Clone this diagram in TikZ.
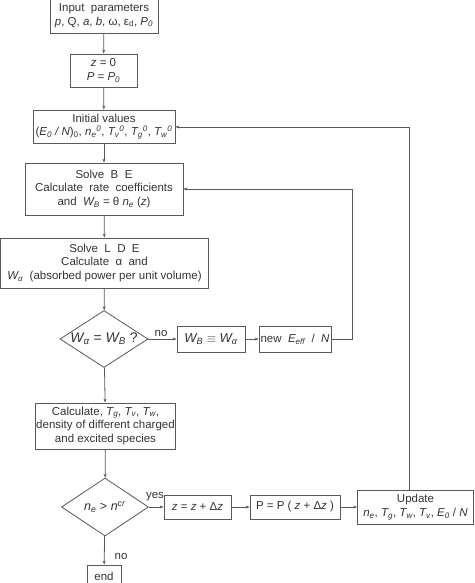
\documentclass[tikz,border=0pt]{standalone}
\usepackage{fontspec}
\setmainfont{Liberation Sans}
\usetikzlibrary{arrows.meta,shapes.geometric}
\tikzset{
  box/.style={draw=black!65, line width=0.8pt, text=black!80, align=center,
    inner sep=1pt, font=\fontsize{11.5}{13.8}\selectfont},
  decision/.style={draw=black!65, line width=0.8pt, text=black!80, diamond,
    aspect=1.5, inner sep=0pt, font=\fontsize{14}{16}\selectfont},
  flow/.style={draw=black!65, line width=0.8pt, -{Stealth[length=4pt,width=3pt]}},
  lab/.style={text=black!80, font=\fontsize{11.5}{13}\selectfont}
}

\begin{document}
\begin{tikzpicture}[x=1pt, y=-1pt]
	%%%%% FRAME %%%%%
	\useasboundingbox (0,0) rectangle (474,583);
	
	%%%%% MAIN COLUMN %%%%%
	\node[box, minimum width=108, minimum height=35] (input) at (104,15.5)
		{Input\ \ parameters\\ \textit{p}, Q, \textit{a}, \textit{b}, ω, ε\textsubscript{d}, \textit{P\textsubscript{0}}};
	\node[box, minimum width=67, minimum height=33] (start) at (103.5,70.5)
		{\textit{z} = 0\\ \textit{P} = \textit{P\textsubscript{0}}};
	\node[box, minimum width=142, minimum height=33] (init) at (104,126.5)
		{Initial values\\ (\textit{E\textsubscript{0} / N})\textsubscript{0}, \textit{n\textsubscript{e}\textsuperscript{0}}, \textit{T\textsubscript{v}\textsuperscript{0}}, \textit{T\textsubscript{g}\textsuperscript{0}}, \textit{T\textsubscript{w}\textsuperscript{0}}};
	\node[box, minimum width=158, minimum height=52] (solvebe) at (104,189)
		{Solve\ \ B\ \ E\\ Calculate\ \ rate\ \ coefficients\\ and\ \ \textit{W\textsubscript{B}} = θ \textit{n\textsubscript{e}} (\textit{z})};
	\node[box, minimum width=208, minimum height=50] (solvelde) at (104.5,263)
		{Solve\ \ L\ \ D\ \ E\\ Calculate\ \ α\ \ and\\ \textit{W\textsubscript{α}}\ \ (absorbed power per unit volume)};
	\node[decision, minimum width=88, minimum height=57] (check) at (104,339)
		{\textit{W\textsubscript{α}} = \textit{W\textsubscript{B}} ?};
	\node[box, minimum width=139, minimum height=46] (calc) at (105.5,426)
		{Calculate, \textit{T\textsubscript{g}}, \textit{T\textsubscript{v}}, \textit{T\textsubscript{w}},\\ density of different charged\\ and excited species};
	\node[decision, minimum width=87, minimum height=58, font=\fontsize{12.5}{14}\selectfont] (crit) at (105,507)
		{\textit{n\textsubscript{e}} > \textit{n}\textsuperscript{\textit{cr}}};
	\node[box, minimum width=34, minimum height=22] (stop) at (104,576) {end};
	
	%%%%% INNER LOOP %%%%%
	\node[box, minimum width=68, minimum height=26, font=\fontsize{13}{15}\selectfont] (assign) at (211,339)
		{\textit{W\textsubscript{B}} $\equiv$ \textit{W\textsubscript{α}}};
	\node[box, minimum width=72, minimum height=26] (neweff) at (295,339)
		{new\ \ \textit{E\textsubscript{eff}}\ \ /\ \ \textit{N}};
	\coordinate (backbe) at (352,189);
	
	%%%%% OUTER LOOP %%%%%
	\node[box, minimum width=67, minimum height=24] (step) at (197.5,507)
		{\textit{z} = \textit{z} + Δ\textit{z}};
	\node[box, minimum width=90, minimum height=24] (press) at (295,507)
		{P = P ( \textit{z} + Δ\textit{z} )};
	\node[box, minimum width=116, minimum height=34] (update) at (415.5,507)
		{Update\\ \textit{n\textsubscript{e}}, \textit{T\textsubscript{g}}, \textit{T\textsubscript{w}}, \textit{T\textsubscript{v}}, \textit{E\textsubscript{0}} / \textit{N}};
	\coordinate (backinit) at (409,127);
	
	%%%%% CONNECTORS %%%%%
	\draw[flow] (input) -- (start);
	\draw[flow] (start) -- (init);
	\draw[flow] (init) -- (solvebe);
	\draw[flow] (solvebe) -- (solvelde);
	\draw[flow] (solvelde) -- (check);
	\draw[flow] (check) -- (calc);
	\draw[flow] (calc) -- (crit);
	\draw[flow] (crit) -- (stop);
	\draw[flow] (check) -- (assign);
	\draw[flow] (assign) -- (neweff);
	\draw[flow] (neweff.east) -| (backbe) -- (solvebe.east |- backbe);
	\draw[flow] (crit) -- (step);
	\draw[flow] (step) -- (press);
	\draw[flow] (press) -- (update);
	\draw[flow] (update.north -| backinit) -- (backinit) -- (init.east |- backinit);
	
	%%%%% LABELS %%%%%
	\node[lab] (nocheck) at (161,333) {no};
	\node[lab] (yescrit) at (155,497) {yes};
	\node[lab] (nocrit) at (121,556) {no};
\end{tikzpicture}
\end{document}
